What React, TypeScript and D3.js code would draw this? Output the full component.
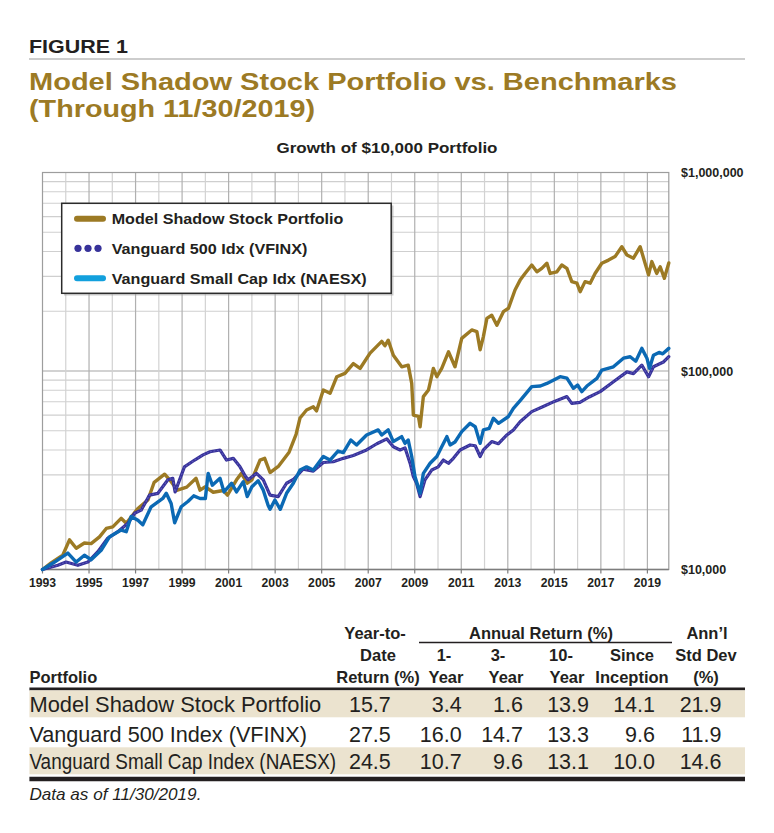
import React from 'react';
import * as d3 from 'd3';

// ---------- DATA ----------
const modelShadow: [number, number][] = [
  [1993.0, 10000], [1993.37, 10800], [1993.87, 11800], [1994.16, 14100], [1994.45, 12800],
  [1994.8, 13600], [1995.09, 13500], [1995.45, 14600], [1995.74, 16100], [1996.02, 16400],
  [1996.38, 18100], [1996.6, 17100], [1997.1, 20300], [1997.53, 22400], [1997.8, 27500],
  [1998.25, 30200], [1998.53, 27700], [1998.8, 25100], [1999.2, 26000], [1999.6, 28800],
  [1999.77, 25100], [2000.0, 26100], [2000.34, 24500], [2000.77, 25000], [2000.95, 23700],
  [2001.34, 28300], [2001.55, 30500], [2001.8, 27200], [2002.0, 28300], [2002.35, 35600],
  [2002.55, 36300], [2002.78, 30800], [2003.15, 33200], [2003.6, 39000], [2003.9, 48000],
  [2004.07, 58000], [2004.35, 63600], [2004.64, 66000], [2004.78, 63000], [2005.07, 80200],
  [2005.36, 77200], [2005.65, 93600], [2006.0, 97300], [2006.36, 109000], [2006.65, 103000],
  [2007.08, 123000], [2007.58, 141000], [2007.72, 134000], [2007.86, 143000], [2008.08, 120000],
  [2008.44, 105000], [2008.72, 107000], [2008.87, 86600], [2008.94, 60000], [2009.16, 59000],
  [2009.23, 52400], [2009.37, 74300], [2009.59, 80200], [2009.8, 103000], [2009.95, 93600],
  [2010.16, 103000], [2010.45, 125000], [2010.73, 105000], [2011.02, 146000], [2011.45, 161000],
  [2011.67, 158000], [2011.81, 128000], [2011.95, 149000], [2012.1, 184000], [2012.31, 191000],
  [2012.53, 170000], [2012.81, 199000], [2013.03, 207000], [2013.31, 256000], [2013.53, 287000],
  [2013.74, 310000], [2014.03, 342000], [2014.25, 316000], [2014.46, 329000], [2014.68, 349000],
  [2014.82, 310000], [2015.11, 316000], [2015.32, 342000], [2015.54, 329000], [2015.75, 282000],
  [2015.97, 277000], [2016.11, 251000], [2016.32, 282000], [2016.54, 277000], [2016.75, 310000],
  [2017.04, 349000], [2017.33, 362000], [2017.61, 377000], [2017.9, 423000], [2018.12, 384000],
  [2018.4, 370000], [2018.69, 423000], [2018.9, 349000], [2019.05, 305000], [2019.19, 356000],
  [2019.4, 310000], [2019.55, 335000], [2019.73, 293000], [2019.92, 350000],
];

const vanguard500: [number, number][] = [
  [1993.0, 10000], [1993.66, 10500], [1994.01, 10900], [1994.52, 10500], [1994.95, 10900],
  [1995.38, 12300], [1995.81, 14400], [1996.24, 15500], [1996.67, 17100], [1996.96, 19200],
  [1997.24, 19900], [1997.6, 23700], [1997.96, 24200], [1998.39, 28300], [1998.6, 28800],
  [1998.7, 24600], [1999.1, 32900], [1999.54, 35600], [1999.9, 37800], [2000.2, 39200],
  [2000.63, 40000], [2000.91, 35600], [2001.2, 36300], [2001.49, 32900], [2001.72, 29500],
  [2001.84, 28300], [2002.2, 30500], [2002.49, 28300], [2002.78, 23700], [2003.13, 23300],
  [2003.49, 27200], [2003.8, 28500], [2004.2, 32000], [2004.64, 31300], [2005.07, 34600],
  [2005.5, 34900], [2005.93, 36300], [2006.36, 37500], [2006.93, 40000], [2007.37, 43000],
  [2007.8, 45500], [2008.08, 41500], [2008.37, 40000], [2008.58, 41000], [2008.8, 34300],
  [2008.94, 29400], [2009.08, 27200], [2009.23, 23300], [2009.44, 28300], [2009.73, 31700],
  [2010.01, 32900], [2010.23, 35600], [2010.45, 34300], [2010.66, 36300], [2010.95, 40000],
  [2011.38, 42400], [2011.6, 42000], [2011.81, 37100], [2011.95, 40000], [2012.31, 44100],
  [2012.59, 43000], [2012.96, 47600], [2013.24, 50500], [2013.53, 55500], [2014.03, 62400],
  [2014.5, 66000], [2015.03, 70500], [2015.54, 74300], [2015.75, 68700], [2016.1, 69500],
  [2016.5, 74000], [2016.97, 78700], [2017.54, 88300], [2018.12, 99000], [2018.4, 97000],
  [2018.76, 107000], [2019.05, 93600], [2019.26, 105000], [2019.69, 111000], [2019.92, 118000],
];

const vanguardSmallCap: [number, number][] = [
  [1993.0, 10000], [1993.52, 10900], [1994.09, 12100], [1994.45, 10900], [1994.8, 11800],
  [1995.09, 11200], [1995.52, 12500], [1995.88, 14600], [1996.38, 15800], [1996.6, 15500],
  [1996.81, 18500], [1997.1, 17700], [1997.31, 16800], [1997.67, 20700], [1998.17, 22800],
  [1998.32, 24200], [1998.53, 21500], [1998.68, 17200], [1998.96, 20700], [1999.25, 22000],
  [1999.5, 23500], [1999.77, 22800], [2000.0, 22800], [2000.12, 30500], [2000.3, 26600],
  [2000.63, 28800], [2000.8, 24600], [2001.13, 27200], [2001.34, 24600], [2001.63, 27700],
  [2001.8, 23300], [2002.0, 26100], [2002.27, 28000], [2002.49, 25100], [2002.7, 21000],
  [2002.78, 20100], [2002.99, 22400], [2003.22, 20100], [2003.49, 24200], [2003.78, 27200],
  [2004.07, 31700], [2004.35, 32900], [2004.64, 31700], [2005.07, 37100], [2005.36, 35600],
  [2005.7, 39500], [2005.93, 38800], [2006.25, 44900], [2006.5, 42400], [2006.93, 47600],
  [2007.43, 50500], [2007.58, 47600], [2007.86, 50500], [2008.08, 44100], [2008.44, 46700],
  [2008.58, 43200], [2008.72, 44900], [2008.87, 37100], [2009.01, 29400], [2009.23, 24200],
  [2009.37, 30500], [2009.66, 34300], [2009.95, 37100], [2010.16, 41500], [2010.38, 46700],
  [2010.52, 42400], [2010.73, 43900], [2011.02, 49500], [2011.38, 54500], [2011.6, 52400],
  [2011.81, 43200], [2011.95, 50500], [2012.2, 51400], [2012.38, 57800], [2012.6, 54500],
  [2013.03, 59000], [2013.24, 64900], [2013.53, 71000], [2014.03, 83400], [2014.4, 84000],
  [2014.68, 86600], [2015.25, 93600], [2015.54, 92000], [2015.82, 81800], [2016.0, 85000],
  [2016.18, 78700], [2016.4, 84000], [2016.83, 91900], [2017.04, 101000], [2017.54, 105000],
  [2017.97, 116000], [2018.26, 118000], [2018.5, 112000], [2018.76, 130000], [2018.98, 116000],
  [2019.09, 103000], [2019.26, 120000], [2019.5, 124000], [2019.66, 122000], [2019.92, 130000],
];

const xLabelYears = [1993, 1995, 1997, 1999, 2001, 2003, 2005, 2007, 2009, 2011, 2013, 2015, 2017, 2019];
const yLabelValues = [10000, 100000, 1000000];
const legendLabels = [
  'Model Shadow Stock Portfolio',
  'Vanguard 500 Idx (VFINX)',
  'Vanguard Small Cap Idx (NAESX)',
];

const tableRowNames = [
  'Model Shadow Stock Portfolio',
  'Vanguard 500 Index (VFINX)',
  'Vanguard Small Cap Index (NAESX)',
];
const ytdReturn = [15.7, 27.5, 24.5];
const oneYear = [3.4, 16.0, 10.7];
const threeYear = [1.6, 14.7, 9.6];
const tenYear = [13.9, 13.3, 13.1];
const sinceInception = [14.1, 9.6, 10.0];
const stdDev = [21.9, 11.9, 14.6];

// ---------- LAYOUT ----------
const W = 774;
const H = 833;
const PL = 42.5, PR = 668.8, PT = 172.5, PB = 569.5;
const GOLD = '#9c7a24';
const PURPLE = '#37329a';
const BLUE = '#0b69b4';
const BLUE_LEGEND = '#12a0dd';
const FONT = '"Liberation Sans", Arial, Helvetica, sans-serif';

export default function App() {
  const x = d3.scaleLinear().domain([1993, 2019.92]).range([PL, PR]);
  const y = d3.scaleLog().domain([10000, 1000000]).range([PB, PT]);
  const line = d3
    .line<[number, number]>()
    .x((d) => x(d[0]))
    .y((d) => y(d[1]));

  const years = d3.range(1994, 2020);
  const minor: number[] = [];
  [10000, 100000].forEach((b) => {
    for (let k = 2; k <= 9; k++) minor.push(b * k);
  });
  const fmtMoney = (v: number) => '$' + d3.format(',')(v);

  const rowBaselines = [711.5, 741.5, 769.3];
  const bandTops = [690.3, 717.3, 747.3];
  const rowLabelScale = [1.018, 1.007, 0.88];
  const valueCols = [ytdReturn, oneYear, threeYear, tenYear, sinceInception, stdDev];
  const valueRight = [390.8, 461.7, 523, 589, 655, 721.5];

  const hdr = (t: string, cx: number, by: number, key: string) => (
    <text key={key} x={cx} y={by} textAnchor="middle" fontFamily={FONT} fontWeight="bold" fontSize={16.5} fill="#231f20">
      {t}
    </text>
  );

  return (
    <div>
      <style>{'body{margin:0;background:#fff}'}</style>
      <svg width={W} height={H} viewBox={`0 0 ${W} ${H}`} style={{ display: 'block' }}>
        <rect x={0} y={0} width={W} height={H} fill="#fff" />
        {/* Header */}
        <text x={29} y={52.7} fontFamily={FONT} fontWeight="bold" fontSize={17.5} fill="#231f20" textLength={99} lengthAdjust="spacingAndGlyphs">
          FIGURE 1
        </text>
        <line x1={29} x2={745} y1={59} y2={59} stroke="#bdbdbd" strokeWidth={1.3} />
        <text x={29} y={89.8} fontFamily={FONT} fontWeight="bold" fontSize={24.8} fill={GOLD} textLength={648} lengthAdjust="spacingAndGlyphs">
          Model Shadow Stock Portfolio vs. Benchmarks
        </text>
        <text x={29} y={117} fontFamily={FONT} fontWeight="bold" fontSize={24.8} fill={GOLD} textLength={286} lengthAdjust="spacingAndGlyphs">
          (Through 11/30/2019)
        </text>

        {/* Chart title */}
        <text x={387} y={152.5} textAnchor="middle" fontFamily={FONT} fontWeight="bold" fontSize={15} fill="#231f20" textLength={221} lengthAdjust="spacingAndGlyphs">
          Growth of $10,000 Portfolio
        </text>

        {/* Grid */}
        {minor.map((v) => (
          <line key={'h' + v} x1={PL} x2={PR} y1={y(v)} y2={y(v)} stroke="#cfcfcf" strokeWidth={1.2} />
        ))}
        <line x1={PL} x2={PR} y1={y(100000)} y2={y(100000)} stroke="#a6a6a6" strokeWidth={1.2} />
        {years.map((yr) => (
          <line
            key={'v' + yr}
            x1={x(yr)}
            x2={x(yr)}
            y1={PT}
            y2={PB}
            stroke={yr % 2 === 1 ? '#b0b0b0' : '#d2d2d2'}
            strokeWidth={1.2}
          />
        ))}
        <rect x={PL} y={PT} width={PR - PL} height={PB - PT} fill="none" stroke="#9d9d9d" strokeWidth={1.2} />
        <line x1={PL} x2={PR} y1={PB} y2={PB} stroke="#7d7d7d" strokeWidth={1.5} />
        {xLabelYears.map((yr) => (
          <g key={'xl' + yr}>
            <line x1={x(yr)} x2={x(yr)} y1={PB} y2={PB + 4} stroke="#7d7d7d" strokeWidth={1.2} />
            <text x={x(yr)} y={587} textAnchor="middle" fontFamily={FONT} fontWeight="bold" fontSize={12.2} fill="#231f20">
              {yr}
            </text>
          </g>
        ))}
        {yLabelValues.map((v) => (
          <text key={'yl' + v} x={681} y={y(v) + 4.5} fontFamily={FONT} fontWeight="bold" fontSize={12.5} fill="#231f20">
            {fmtMoney(v)}
          </text>
        ))}

        {/* Series */}
        <path d={line(modelShadow) || ''} fill="none" stroke={GOLD} strokeWidth={3.4} strokeLinejoin="round" strokeLinecap="round" />
        <path d={line(vanguard500) || ''} fill="none" stroke={PURPLE} strokeWidth={3.2} strokeLinejoin="round" strokeLinecap="round" />
        <path d={line(vanguard500) || ''} fill="none" stroke="#5a55b8" strokeWidth={1.2} strokeDasharray="1 2.5" strokeLinecap="round" />
        <path d={line(vanguardSmallCap) || ''} fill="none" stroke={BLUE} strokeWidth={3.4} strokeLinejoin="round" strokeLinecap="round" />

        {/* Legend */}
        <rect x={64} y={205.5} width={329.5} height={90} fill="#9a9a9a" opacity={0.5} />
        <rect x={61.7} y={203.3} width={329.5} height={90} fill="#fff" stroke="#2b2b2b" strokeWidth={1.5} />
        <line x1={77} x2={103} y1={218.7} y2={218.7} stroke={GOLD} strokeWidth={6} strokeLinecap="round" />
        {[78, 88, 98].map((cx) => (
          <circle key={'ld' + cx} cx={cx} cy={248.3} r={3.6} fill={PURPLE} />
        ))}
        <line x1={77} x2={103} y1={278.3} y2={278.3} stroke={BLUE_LEGEND} strokeWidth={6} strokeLinecap="round" />
        {legendLabels.map((t, i) => (
          <text
            key={'lt' + i}
            x={111.7}
            y={[224, 253.8, 283.8][i]}
            fontFamily={FONT}
            fontWeight="bold"
            fontSize={15}
            fill="#231f20"
            textLength={[231.7, 195.7, 255][i]}
            lengthAdjust="spacingAndGlyphs"
          >
            {t}
          </text>
        ))}

        {/* Table header */}
        {hdr('Year-to-', 375, 639, 'h1')}
        {hdr('Annual Return (%)', 541, 639, 'h2')}
        <line x1={419} x2={672} y1={642.5} y2={642.5} stroke="#231f20" strokeWidth={1.3} />
        {hdr('Ann\u2019l', 707, 639, 'h3')}
        {hdr('Date', 378, 660.5, 'h4')}
        {hdr('1-', 444, 660.5, 'h5')}
        {hdr('3-', 498, 660.5, 'h6')}
        {hdr('10-', 561, 660.5, 'h7')}
        {hdr('Since', 632, 660.5, 'h8')}
        {hdr('Std Dev', 706, 660.5, 'h9')}
        <text x={29.4} y={682.5} fontFamily={FONT} fontWeight="bold" fontSize={16.5} fill="#231f20">
          Portfolio
        </text>
        {hdr('Return (%)', 378, 682.5, 'h10')}
        {hdr('Year', 446, 682.5, 'h11')}
        {hdr('Year', 506, 682.5, 'h12')}
        {hdr('Year', 567, 682.5, 'h13')}
        {hdr('Inception', 632, 682.5, 'h14')}
        {hdr('(%)', 706, 682.5, 'h15')}
        <line x1={29.4} x2={745} y1={689} y2={689} stroke="#231f20" strokeWidth={3} />

        {/* Table rows */}
        {tableRowNames.map((name, i) => (
          <g key={'row' + i}>
            {i !== 1 && (
              <rect x={29.4} y={bandTops[i]} width={745 - 29.4} height={27} fill="#ebe3cf" />
            )}
            <text
              transform={`translate(29.4,${rowBaselines[i]}) scale(${rowLabelScale[i]},1)`}
              fontFamily={FONT}
              fontSize={21.5}
              fill="#231f20"
            >
              {name}
            </text>
            {valueCols.map((col, j) => (
              <text
                key={'c' + j}
                x={valueRight[j]}
                y={rowBaselines[i]}
                textAnchor="end"
                fontFamily={FONT}
                fontSize={21.5}
                fill="#231f20"
              >
                {col[i].toFixed(1)}
              </text>
            ))}
          </g>
        ))}
        <line x1={29.4} x2={745} y1={779} y2={779} stroke="#231f20" strokeWidth={4.5} />
        <text x={29.4} y={800} fontFamily={FONT} fontStyle="italic" fontSize={16.5} fill="#231f20" textLength={172} lengthAdjust="spacingAndGlyphs">
          Data as of 11/30/2019.
        </text>
      </svg>
    </div>
  );
}
